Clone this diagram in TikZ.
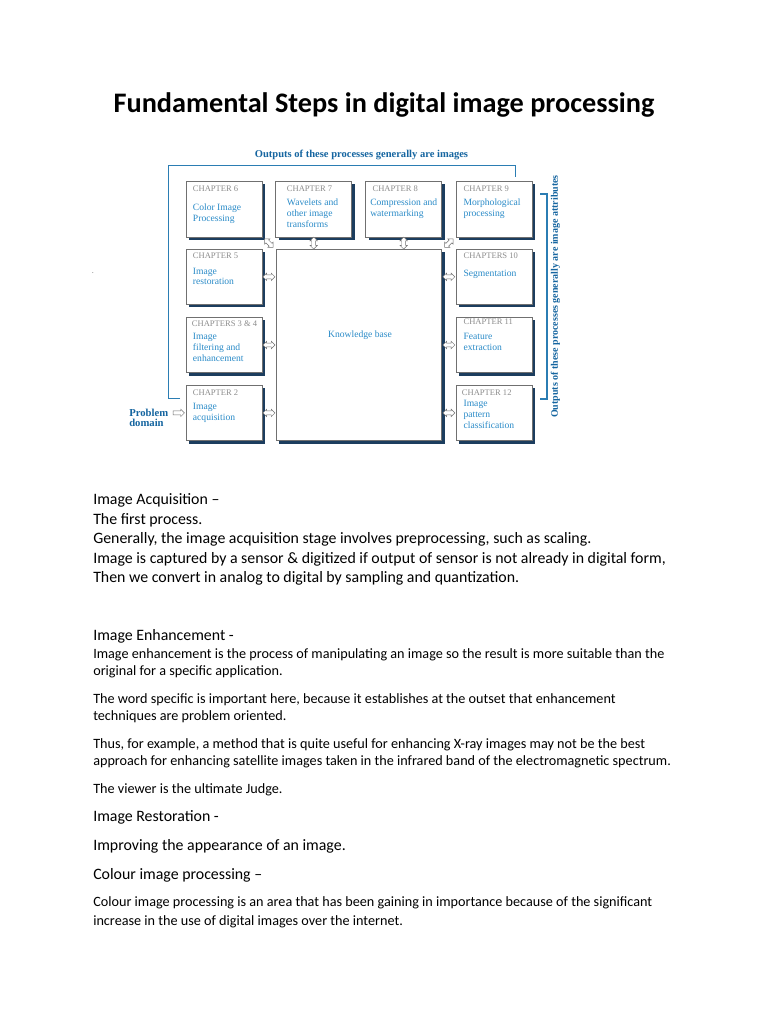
\documentclass[tikz,border=0pt]{standalone}
\usepackage{fontspec}
\setmainfont{Carlito}
\newfontfamily\tms{Liberation Serif}
\usetikzlibrary{shapes.arrows,shadows,calc}
\definecolor{lblue}{HTML}{2A8BC8}
\definecolor{dblue}{HTML}{1565A0}
\definecolor{lineblue}{HTML}{2B7DB3}
\definecolor{shadowc}{HTML}{1C3D5E}
\definecolor{chapgray}{HTML}{8C8C8C}
\definecolor{boxgray}{HTML}{707070}
\begin{document}
\begin{tikzpicture}[x=0.75pt,y=-0.75pt,
  box/.style={draw=boxgray, line width=0.4pt, fill=white, minimum width=57pt, minimum height=41.5pt, inner sep=0pt,
    drop shadow={shadow xshift=2.2pt, shadow yshift=-2.2pt, fill=shadowc, opacity=1}},
  chap/.style={anchor=north west, inner sep=0pt, align=left, font=\tms\fontsize{6.4}{7.6}\selectfont, text=chapgray},
  proc/.style={anchor=north west, inner sep=0pt, align=left, font=\tms\fontsize{7.2}{8.1}\selectfont, text=lblue},
  darr/.style={double arrow, draw=boxgray, fill=white, line width=0.35pt, minimum height=9pt,
    double arrow head extend=1.3pt, inner sep=1.3pt},
  sarr/.style={single arrow, draw=boxgray, fill=white, line width=0.35pt, minimum height=8.5pt,
    single arrow head extend=1.3pt, inner sep=1.3pt},
  blab/.style={inner sep=0pt, font=\tms\bfseries\fontsize{7.9}{8}\selectfont, text=dblue},
  outl/.style={draw=lineblue, line width=1.1pt},
  bigl/.style={anchor=west, inner sep=0pt, text height=0.75em, text depth=0.25em, font=\fontsize{11.9}{13}\selectfont},
  smll/.style={anchor=west, inner sep=0pt, text height=0.75em, text depth=0.25em, font=\fontsize{10.65}{12}\selectfont}
]
\useasboundingbox (0,0) rectangle (768,1024);
\fill[white] (0,0) rectangle (768,1024);

% title
\node[inner sep=0pt, font=\bfseries\fontsize{21.2}{24}\selectfont] (title) at (384,105) {Fundamental Steps in digital image processing};

% outer blue lines
\node[blab] (topl) at (361.5,155) {Outputs of these processes generally are images};
\coordinate (o1) at (180,398.3);
\coordinate (o2) at (168.3,398.3);
\coordinate (o3) at (168.3,165.7);
\coordinate (o4) at (515.7,165.7);
\coordinate (o5) at (515.7,176.7);
\draw[outl] (o1) -- (o2) -- (o3) -- (o4) -- (o5);

\coordinate (b1) at (540,194);
\coordinate (b2) at (547,194);
\coordinate (b3) at (547,399);
\coordinate (b4) at (540,399);
\draw[outl] (b1) -- (b2) -- (b3) -- (b4);
\node[blab, rotate=90, font=\tms\bfseries\fontsize{7.5}{8}\selectfont] (rightl) at (555.5,296.5) {Outputs of these processes generally are image attributes};

% boxes
\node[box] (c6) at (223.9,209.2) {};
\node[box] (c7) at (313.7,209.2) {};
\node[box] (c8) at (403.7,209.2) {};
\node[box] (c9) at (494,209.2) {};
\node[box] (c5) at (223.9,276.8) {};
\node[box] (c34) at (223.9,345) {};
\node[box] (c2) at (223.9,412.9) {};
\node[box] (c10) at (494,276.8) {};
\node[box] (c11) at (494,345) {};
\node[box] (c12) at (494,412.9) {};
\node[box, minimum width=124.3pt, minimum height=143.5pt] (kb) at (358.85,345) {};
\node[inner sep=0pt, font=\tms\fontsize{7.2}{8}\selectfont, text=lblue] (kbt) at (360,335.7) {Knowledge base};

% box texts
\node[chap] (c6l) at (192.7,185.5) {CHAPTER 6};
\node[proc] (c6t) at (192.7,203.8) {Color Image\\Processing};
\node[chap] (c7l) at (286.7,185.5) {CHAPTER 7};
\node[proc] (c7t) at (286.7,198.8) {Wavelets and\\other image\\transforms};
\node[chap] (c8l) at (372.3,185.5) {CHAPTER 8};
\node[proc] (c8t) at (370,198.8) {Compression and\\watermarking};
\node[chap] (c9l) at (463.3,185.5) {CHAPTER 9};
\node[proc] (c9t) at (463.3,198.8) {Morphological\\processing};
\node[chap] (c5l) at (192.7,253) {CHAPTER 5};
\node[proc] (c5t) at (192.7,267.5) {Image\\restoration};
\node[chap] (c10l) at (463.3,252.5) {CHAPTERS 10};
\node[proc] (c10t) at (463.3,269.5) {Segmentation};
\node[chap] (c34l) at (191.7,320.5) {CHAPTERS 3 \& 4};
\node[proc] (c34t) at (192.7,333.2) {Image\\filtering and\\enhancement};
\node[chap] (c11l) at (463.3,319) {CHAPTER 11};
\node[proc] (c11t) at (463.3,333.2) {Feature\\extraction};
\node[chap] (c2l) at (192.7,389.5) {CHAPTER 2};
\node[proc] (c2t) at (192.7,403.2) {Image\\acquisition};
\node[chap] (c12l) at (461.7,389.5) {CHAPTER 12};
\node[proc] (c12t) at (463.3,400.3) {Image\\pattern\\classification};

% problem domain
\node[blab, align=left, anchor=west, font=\tms\bfseries\fontsize{8}{8}\selectfont] (pd) at (129,418) {Problem\\domain};
\node[sarr] (pda) at (177.8,412.9) {};

% hollow arrows
\node[darr] (a5) at ($(c5.east)!0.5!(kb.west |- c5.east)$) {};
\node[darr] (a34) at ($(c34.east)!0.5!(kb.west |- c34.east)$) {};
\node[darr] (a2) at ($(c2.east)!0.5!(kb.west |- c2.east)$) {};
\node[darr] (a10) at ($(c10.west)!0.5!(kb.east |- c10.west)$) {};
\node[darr] (a11) at ($(c11.west)!0.5!(kb.east |- c11.west)$) {};
\node[darr] (a12) at ($(c12.west)!0.5!(kb.east |- c12.west)$) {};
\node[darr, rotate=90] (a7) at ($(c7.south)!0.5!(kb.north -| c7.south)$) {};
\node[darr, rotate=90] (a8) at ($(c8.south)!0.5!(kb.north -| c8.south)$) {};
\node[darr, rotate=-45] (a6) at ($(c6.south east)!0.5!(kb.north west)$) {};
\node[darr, rotate=45] (a9) at ($(c9.south west)!0.5!(kb.north east)$) {};

% stray dot
\node[inner sep=0pt, font=\fontsize{6}{6}\selectfont, text=gray] (dot) at (93,273) {.};

% body text
\node[bigl] (t1) at (93,501.5) {Image Acquisition –};
\node[bigl] (t2) at (93,521) {The first process.};
\node[bigl] (t3) at (93,540.5) {Generally, the image acquisition stage involves preprocessing, such as scaling.};
\node[bigl] (t4) at (93,560) {Image is captured by a sensor \& digitized if output of sensor is not already in digital form,};
\node[bigl] (t5) at (93,579.5) {Then we convert in analog to digital by sampling and quantization.};

\node[bigl] (e0) at (93,637) {Image Enhancement -};
\node[smll] (e1) at (93,655) {Image enhancement is the process of manipulating an image so the result is more suitable than the};
\node[smll] (e2) at (93,672) {original for a specific application.};
\node[smll] (e3) at (93,700) {The word specific is important here, because it establishes at the outset that enhancement};
\node[smll] (e4) at (93,717) {techniques are problem oriented.};
\node[smll] (e5) at (93,745) {Thus, for example, a method that is quite useful for enhancing X-ray images may not be the best};
\node[smll] (e6) at (93,762) {approach for enhancing satellite images taken in the infrared band of the electromagnetic spectrum.};
\node[smll] (e7) at (93,790) {The viewer is the ultimate Judge.};

\node[bigl] (r0) at (93,818) {Image Restoration -};
\node[bigl] (r1) at (93,847) {Improving the appearance of an image.};
\node[bigl] (k0) at (93,876) {Colour image processing –};
\node[smll] (k1) at (93,903) {Colour image processing is an area that has been gaining in importance because of the significant};
\node[smll] (k2) at (93,922) {increase in the use of digital images over the internet.};
\end{tikzpicture}
\end{document}
